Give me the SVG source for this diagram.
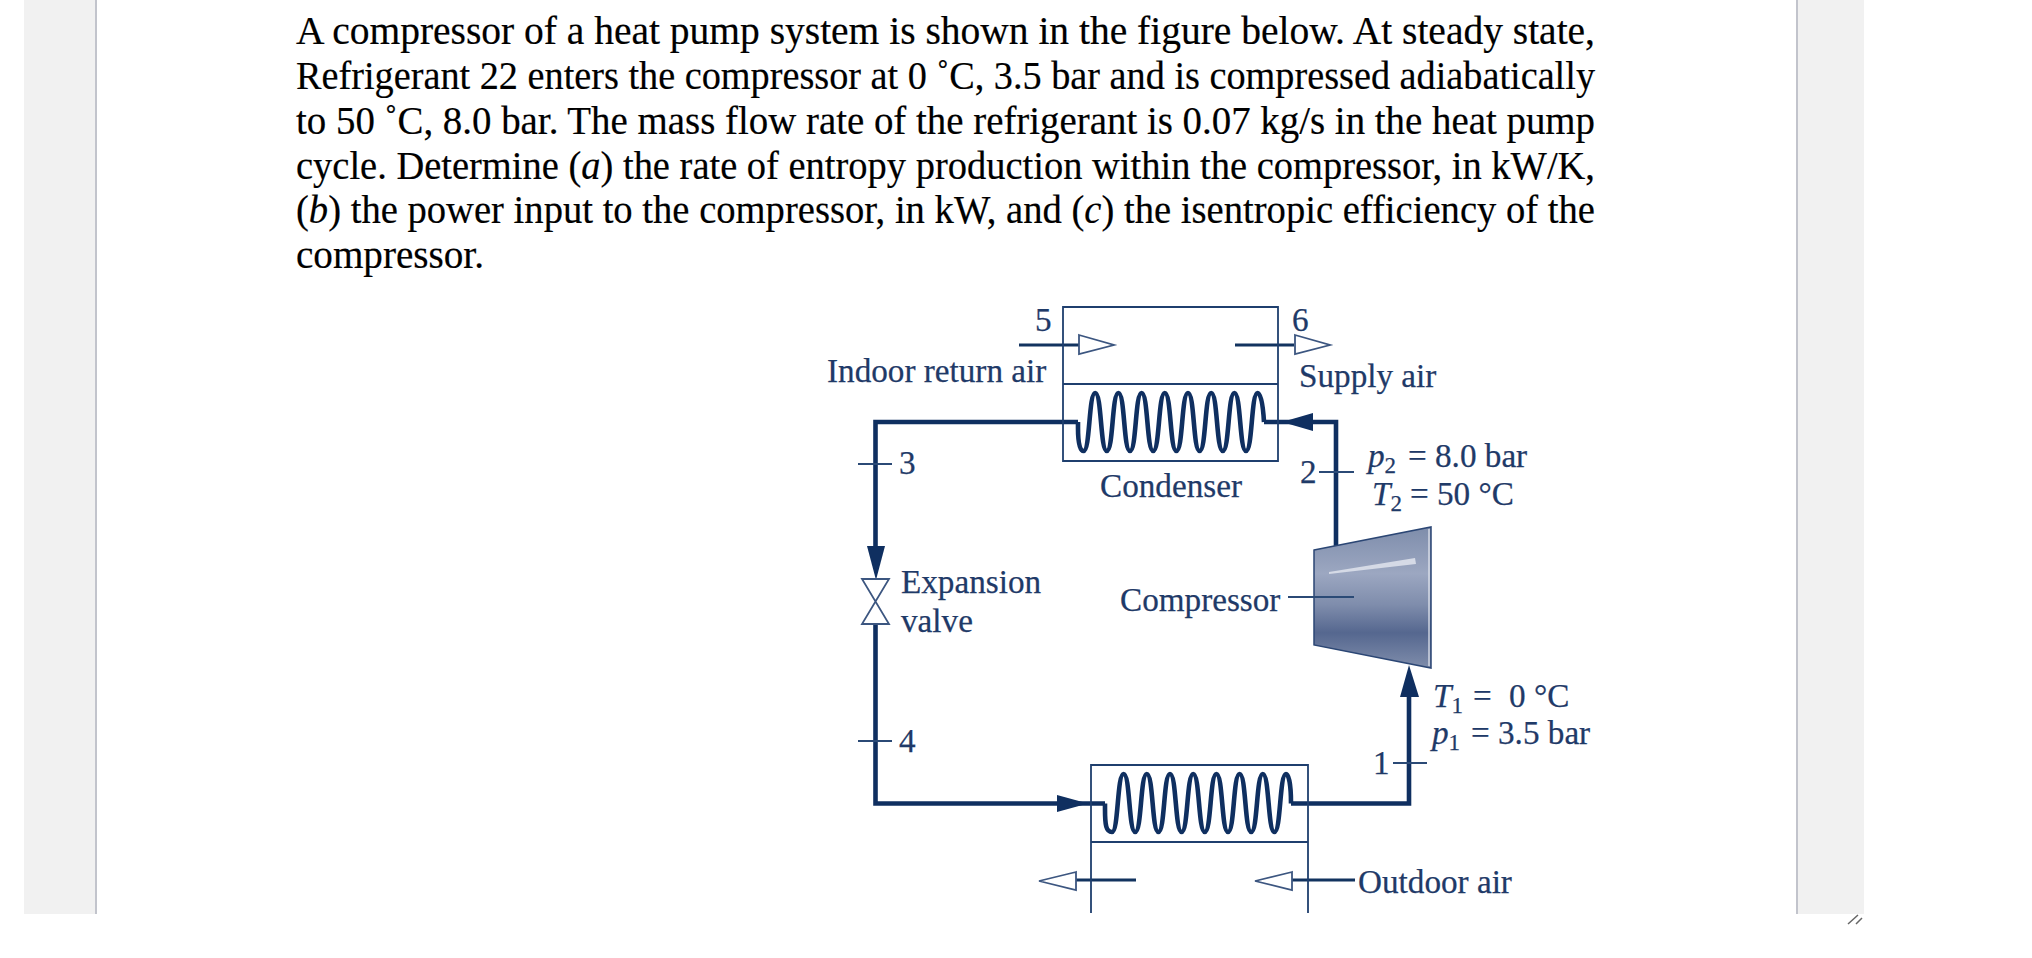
<svg xmlns="http://www.w3.org/2000/svg" width="2032" height="958" viewBox="0 0 2032 958">
<style>
.p{font:40px "Liberation Serif","Times New Roman",serif;fill:#000;stroke:#000;stroke-width:.2}
.l{font:33.2px "Liberation Serif","Times New Roman",serif;fill:#1f3a68;stroke:#1f3a68;stroke-width:.25}
.i{font-style:italic}
.s{font-size:23px}
.box{fill:none;stroke:#1f3f6e;stroke-width:1.8}
.pipe{fill:none;stroke:#0f2f60;stroke-width:4.6;stroke-linejoin:miter}
.air{fill:none;stroke:#12335f;stroke-width:3}
.thin{fill:none;stroke:#2b4a76;stroke-width:1.8}
.head{fill:#0f2f60}
.hollow{fill:#fff;stroke:#3c5680;stroke-width:1.8}
</style>
<defs>
<linearGradient id="cg" x1="0" y1="0" x2="0" y2="1">
<stop offset="0" stop-color="#7e8dab"/><stop offset=".33" stop-color="#9ca7c1"/><stop offset=".55" stop-color="#7f8dac"/><stop offset=".75" stop-color="#55678f"/><stop offset="1" stop-color="#7f8dab"/>
</linearGradient>
</defs>
<rect width="2032" height="958" fill="#fff"/>
<g id="page">
<rect x="24" y="0" width="1840" height="914" fill="#f1f1f1"/>
<rect x="96" y="0" width="1701" height="914" fill="#fff"/>
<path d="M96 0V914M1797 0V914" fill="none" stroke="#c2c4cc" stroke-width="2"/>
<path d="M1848 924L1858 915M1856 924L1862 918" stroke="#666" stroke-width="1.5"/>
</g>
<g id="problem-text">
<text class="p" x="296" y="44" textLength="1299" lengthAdjust="spacingAndGlyphs">A compressor of a heat pump system is shown in the figure below. At steady state,</text>
<text class="p" x="296" y="88.5" textLength="1299" lengthAdjust="spacingAndGlyphs">Refrigerant 22 enters the compressor at 0 ˚C, 3.5 bar and is compressed adiabatically</text>
<text class="p" x="296" y="133.5" textLength="1299" lengthAdjust="spacingAndGlyphs">to 50 ˚C, 8.0 bar. The mass flow rate of the refrigerant is 0.07 kg/s in the heat pump</text>
<text class="p" x="296" y="178.5" textLength="1299" lengthAdjust="spacingAndGlyphs">cycle. Determine (<tspan class="i">a</tspan>) the rate of entropy production within the compressor, in kW/K,</text>
<text class="p" x="296" y="223" textLength="1299" lengthAdjust="spacingAndGlyphs">(<tspan class="i">b</tspan>) the power input to the compressor, in kW, and (<tspan class="i">c</tspan>) the isentropic efficiency of the</text>
<text class="p" x="296" y="267.5" textLength="188" lengthAdjust="spacingAndGlyphs">compressor.</text>
</g>
<g id="connectors">
<path class="pipe" d="M1336 547V422H1264"/>
<path class="pipe" d="M1078 422H875.5V550"/>
<path class="pipe" d="M875.5 624V803.5H1105"/>
<path class="pipe" d="M1291 803.5H1409V695"/>
<polygon class="head" points="1282,422 1313,413 1313,431"/>
<polygon class="head" points="876,580 867,546 885,546"/>
<polygon class="head" points="1088,803.5 1057,795 1057,812"/>
<polygon class="head" points="1409,665 1400,697 1419,697"/>
<path class="air" d="M1019 345H1079M1235 345H1294M1136 880H1076M1355 880H1292"/>
<polygon class="hollow" points="1079,335 1114,345 1079,354"/>
<polygon class="hollow" points="1295,335 1330,345 1295,354"/>
<polygon class="hollow" points="1076,872 1039,881 1076,890"/>
<polygon class="hollow" points="1292,872 1255,881 1292,890"/>
<path class="thin" d="M858 464H892M858 741H892M1319 472H1354M1393 763H1427"/>
</g>
<g id="condenser">
<path class="box" d="M1063 307H1278V461H1063ZM1063 384H1278"/>
<path class="pipe" d="M1078 422V428C1078 444 1080 451 1083.6 451c6.5 0 5.1-58 11.6-58c6.5 0 5.1 58 11.6 58c6.5 0 5.1-58 11.6-58c6.5 0 5.1 58 11.6 58c6.5 0 5.1-58 11.6-58c6.5 0 5.1 58 11.6 58c6.5 0 5.1-58 11.6-58c6.5 0 5.1 58 11.6 58c6.5 0 5.1-58 11.6-58c6.5 0 5.1 58 11.6 58c6.5 0 5.1-58 11.6-58c6.5 0 5.1 58 11.6 58c6.5 0 5.1-58 11.6-58c6.5 0 5.1 58 11.6 58c6.5 0 5.1-58 11.6-58C1261 393 1263 405 1264 422"/>
<text class="l" x="1100" y="497">Condenser</text>
<text class="l" x="827" y="381.5">Indoor return air</text>
<text class="l" x="1035" y="331">5</text>
<text class="l" x="1292" y="331">6</text>
<text class="l" x="1299" y="387">Supply air</text>
</g>
<g id="evaporator">
<path class="box" d="M1091 913V765H1308V913M1091 842H1308"/>
<path class="pipe" d="M1105 803.5V809C1105 825 1106 832 1112 832c6.5 0 5.1-58 11.6-58c6.5 0 5.1 58 11.6 58c6.5 0 5.1-58 11.6-58c6.5 0 5.1 58 11.6 58c6.5 0 5.1-58 11.6-58c6.5 0 5.1 58 11.6 58c6.5 0 5.1-58 11.6-58c6.5 0 5.1 58 11.6 58c6.5 0 5.1-58 11.6-58c6.5 0 5.1 58 11.6 58c6.5 0 5.1-58 11.6-58c6.5 0 5.1 58 11.6 58c6.5 0 5.1-58 11.6-58c6.5 0 5.1 58 11.6 58c6.5 0 5.1-58 11.6-58C1289 774 1291 786 1291 803.5"/>
<text class="l" x="1358" y="892.5">Outdoor air</text>
</g>
<g id="expansion-valve">
<polygon class="hollow" points="862,579 889,579 862,624 889,624"/>
<text class="l" x="901" y="593">Expansion</text>
<text class="l" x="901" y="632">valve</text>
<text class="l" x="899" y="474">3</text>
<text class="l" x="899" y="752">4</text>
</g>
<g id="compressor">
<polygon points="1314,550 1431,527 1431,668 1314,645" fill="url(#cg)" stroke="#2b4674" stroke-width="1.5"/>
<path d="M1429 529V666" stroke="#e8ebf2" stroke-width="1.2"/>
<polygon points="1329,572 1415,558 1416,564 1329,574" fill="#d5dae6"/>
<path class="thin" d="M1288 597H1354"/>
<text class="l" x="1120" y="611">Compressor</text>
</g>
<g id="state-labels">
<text class="l" x="1300" y="482.5">2</text>
<text class="l" x="1368" y="467"><tspan class="i">p</tspan><tspan class="s" dy="6">2</tspan></text>
<text class="l" x="1408" y="467">= 8.0 bar</text>
<text class="l" x="1372" y="505"><tspan class="i">T</tspan><tspan class="s" dy="6">2</tspan></text>
<text class="l" x="1410" y="505">= 50 °C</text>
<text class="l" x="1433" y="707"><tspan class="i">T</tspan><tspan class="s" dy="6">1</tspan></text>
<text class="l" x="1473" y="707">=</text>
<text class="l" x="1509" y="707">0 °C</text>
<text class="l" x="1432" y="744"><tspan class="i">p</tspan><tspan class="s" dy="6">1</tspan></text>
<text class="l" x="1471" y="744">= 3.5 bar</text>
<text class="l" x="1373" y="774">1</text>
</g>
</svg>
